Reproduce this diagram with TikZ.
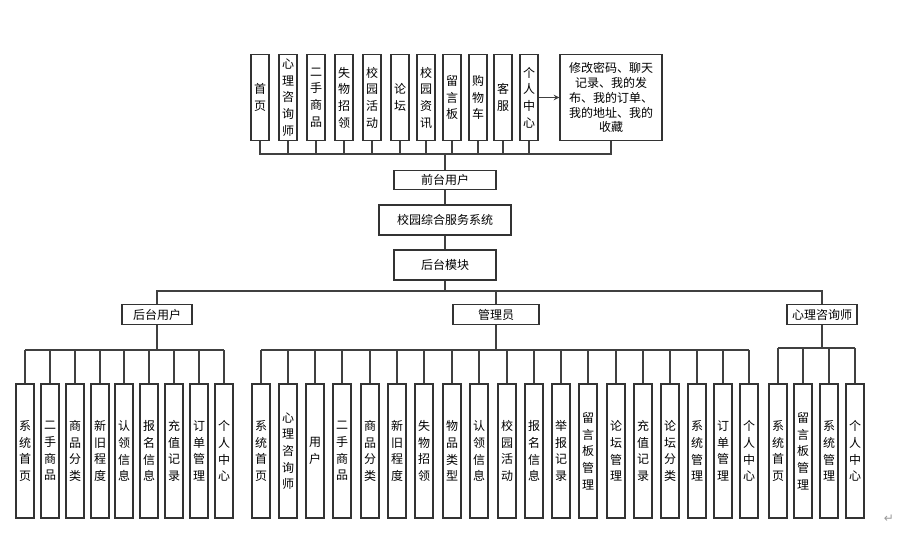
\documentclass[tikz,border=0pt]{standalone}
\usepackage{fontspec}
\setmainfont{Noto Sans CJK SC}
\newfontfamily\dv{DejaVu Sans}
\begin{document}
\begin{tikzpicture}[x=0.75pt,y=-0.75pt,
  ln/.style={draw=black!75,line width=0.9pt},
  bx/.style={draw=black!80,line width=0.9pt,fill=white,inner sep=0pt,align=center,font=\fontsize{9}{12.5}\selectfont},
  tb/.style={bx,minimum width=13.5pt,minimum height=65pt},
  lb/.style={bx,minimum width=13.5pt,minimum height=100.5pt},
  hb/.style={bx,minimum height=14.5pt}]
\useasboundingbox (0,0) rectangle (898,545);
% top
\foreach \n/\x/\t in {t1/260/{首\\页},t2/288/{心\\理\\咨\\询\\师},t3/316/{二\\手\\商\\品},t4/344/{失\\物\\招\\领},t5/372/{校\\园\\活\\动},t6/400/{论\\坛},t7/426/{校\\园\\资\\讯},t8/452/{留\\言\\板},t9/478/{购\\物\\车},t10/503/{客\\服},t11/529/{个\\人\\中\\心}}
  \node[tb] (\n) at (\x,97.5) {\t};
\node[bx,minimum width=76.5pt,minimum height=65pt,font=\fontsize{9}{11.2}\selectfont] (big) at (611,97.5) {修改密码、聊天\\记录、我的发\\布、我的订单、\\我的地址、我的\\收藏};
\coordinate (tbus) at (0,154);
\draw[ln] (t1.south) -- (t1.south |- tbus) -- (big.south |- tbus) -- (big.south);
\foreach \n in {t2,t3,t4,t5,t6,t7,t8,t9,t10,t11} \draw[ln] (\n.south) -- (\n.south |- tbus);
\draw[ln,->,>=stealth] (t11.east) -- (big.west);
\node[hb,minimum width=76.5pt] (qt) at (445,180) {前台用户};
\node[bx,minimum width=99pt,minimum height=22.5pt] (sys) at (445,220) {校园综合服务系统};
\node[bx,minimum width=76.5pt,minimum height=22.5pt] (ht) at (445,265) {后台模块};
\draw[ln] (qt.north) -- (qt.north |- tbus);
\draw[ln] (qt.south) -- (sys.north);
\draw[ln] (sys.south) -- (ht.north);
% second level
\node[hb,minimum width=52.5pt] (hu) at (157,314.5) {后台用户};
\node[hb,minimum width=64.5pt] (ad) at (496,314.5) {管理员};
\node[hb,minimum width=52.5pt] (ps) at (822,314.5) {心理咨询师};
\coordinate (mbus) at (0,291);
\draw[ln] (ht.south) -- (ht.south |- mbus);
\draw[ln] (hu.north) -- (hu.north |- mbus) -- (ps.north |- mbus) -- (ps.north);
\draw[ln] (ad.north) -- (ad.north |- mbus);
% bottom
\coordinate (bbus) at (0,350);
\coordinate (pbus) at (0,348);
\foreach \n/\x/\t in {a1/25/{系\\统\\首\\页},a2/50/{二\\手\\商\\品},a3/75/{商\\品\\分\\类},a4/100/{新\\旧\\程\\度},a5/124/{认\\领\\信\\息},a6/149/{报\\名\\信\\息},a7/174/{充\\值\\记\\录},a8/199/{订\\单\\管\\理},a9/224/{个\\人\\中\\心}}
  {\node[lb] (\n) at (\x,451) {\t}; \draw[ln] (\n.north) -- (\n.north |- bbus);}
\draw[ln] (a1.north |- bbus) -- (a9.north |- bbus);
\draw[ln] (hu.south) -- (hu.south |- bbus);
\foreach \n/\x/\t in {b1/261/{系\\统\\首\\页},b2/288/{心\\理\\咨\\询\\师},b3/315/{用\\户},b4/342/{二\\手\\商\\品},b5/370/{商\\品\\分\\类},b6/397/{新\\旧\\程\\度},b7/424/{失\\物\\招\\领},b8/452/{物\\品\\类\\型},b9/479/{认\\领\\信\\息},b10/507/{校\\园\\活\\动},b11/534/{报\\名\\信\\息},b12/561/{举\\报\\记\\录},b13/588/{留\\言\\板\\管\\理},b14/616/{论\\坛\\管\\理},b15/643/{充\\值\\记\\录},b16/670/{论\\坛\\分\\类},b17/697/{系\\统\\管\\理},b18/723/{订\\单\\管\\理},b19/749/{个\\人\\中\\心}}
  {\node[lb] (\n) at (\x,451) {\t}; \draw[ln] (\n.north) -- (\n.north |- bbus);}
\draw[ln] (b1.north |- bbus) -- (b19.north |- bbus);
\draw[ln] (ad.south) -- (ad.south |- bbus);
\foreach \n/\x/\t in {c1/778/{系\\统\\首\\页},c2/803/{留\\言\\板\\管\\理},c3/829/{系\\统\\管\\理},c4/855/{个\\人\\中\\心}}
  {\node[lb] (\n) at (\x,451) {\t}; \draw[ln] (\n.north) -- (\n.north |- pbus);}
\draw[ln] (c1.north |- pbus) -- (c4.north |- pbus);
\draw[ln] (ps.south) -- (ps.south |- pbus);
\node[text=black!40,font=\dv\fontsize{9}{9}\selectfont] (ret) at (889,519) {↵};
\end{tikzpicture}
\end{document}
